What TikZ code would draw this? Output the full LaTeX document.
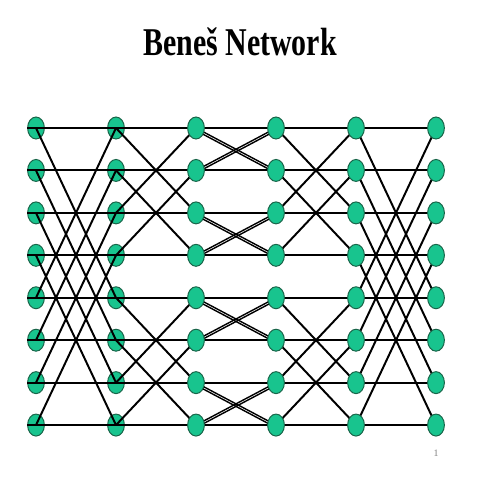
\documentclass[tikz,border=0pt]{standalone}
\usepackage{fontspec}
\setmainfont{Liberation Serif}
\usetikzlibrary{shapes.geometric}
\definecolor{switchfill}{RGB}{24,196,142}
\definecolor{switchrim}{RGB}{24,100,72}
\pgfdeclarelayer{under}
\pgfdeclarelayer{wires}
\pgfsetlayers{under,wires,main}
\tikzset{
  switch/.style={ellipse, draw=switchrim, fill=switchfill, line width=0.7pt,
    minimum width=0.42cm, minimum height=0.55cm, inner sep=0pt},
  wire/.style={black, line width=1.4pt},
}
\begin{document}
\begin{tikzpicture}
\useasboundingbox (0,0) rectangle (12,12);
\node[font=\bfseries\fontsize{28}{30}\selectfont, xscale=0.76, anchor=base] (title) at (6,10.62) {Beneš Network};
\node[font=\fontsize{7}{8}\selectfont, text=gray] (page) at (10.9,0.68) {1};
\begin{pgfonlayer}{under}
\foreach \c in {0,1}
  \foreach \r in {0,...,7}
    \node[switch] (n\c-\r) at ({0.9+2*\c},{8.8-1.061*\r}) {};
\end{pgfonlayer}
\foreach \c in {2,...,5}
  \foreach \r in {0,...,7}
    \node[switch] (n\c-\r) at ({0.9+2*\c},{8.8-1.061*\r}) {};
\begin{pgfonlayer}{wires}
\foreach \r in {0,...,7}
  \draw[wire] (n0-\r.west) -- (n5-\r.center);
\foreach \c/\d in {0/4,1/2,3/2,4/4} {
  \pgfmathtruncatemacro\cc{\c+1}
  \foreach \r in {0,...,7} {
    \pgfmathtruncatemacro\p{mod(\r,2*\d)<\d ? \r+\d : \r-\d}
    \draw[wire] (n\c-\r.center) -- (n\cc-\p.center);
  }
}
\foreach \r in {0,...,7} {
  \pgfmathtruncatemacro\p{mod(\r,2)<1 ? \r+1 : \r-1}
  \draw[wire, line width=1pt] (n2-\r.center) -- (n3-\p.center);
  \draw[wire, line width=1pt] ([yshift=-1.8pt]n2-\r.center) -- ([yshift=-1.8pt]n3-\p.center);
}
\end{pgfonlayer}
\end{tikzpicture}
\end{document}
